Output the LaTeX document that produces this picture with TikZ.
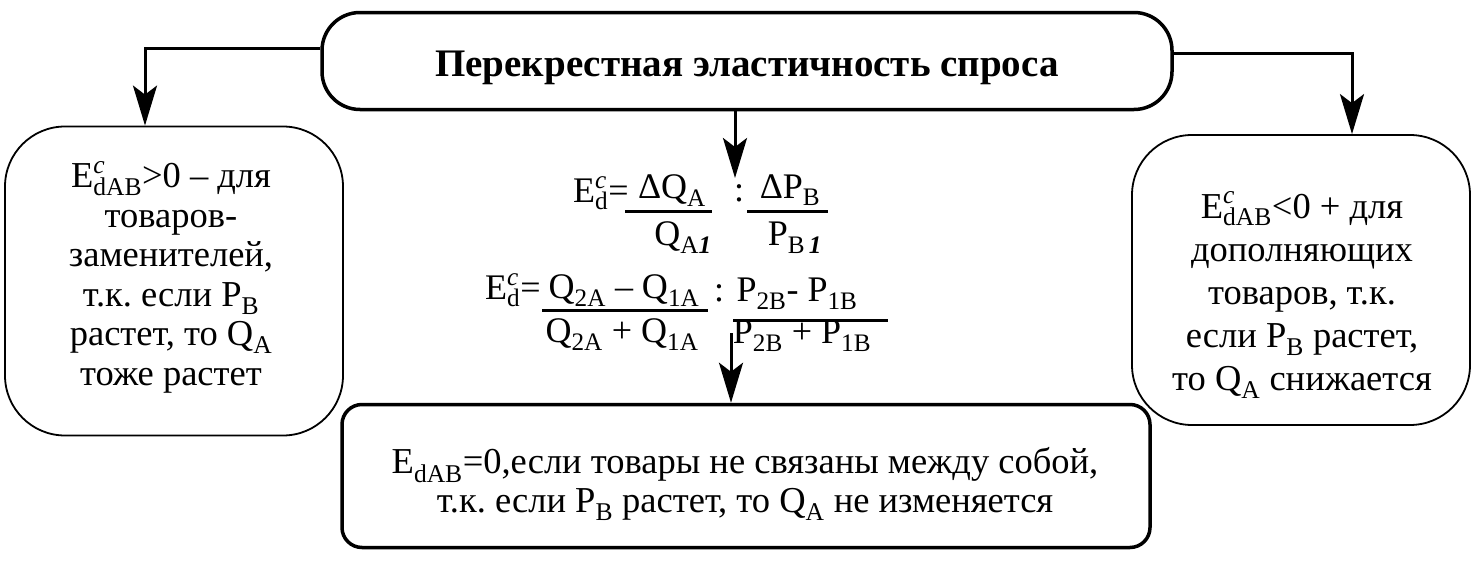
\documentclass[tikz,border=0pt]{standalone}
\usepackage{amsmath}
\usepackage{fontspec}
\setmainfont{Liberation Serif}
\usetikzlibrary{arrows.meta}
\frenchspacing
\newcommand\tx[1]{\text{#1}}
\newcommand\one{\textbf{\textit{1}}}
\tikzset{
  boxthick/.style={draw, line width=3.5pt, rounded corners=#1, inner sep=0pt},
  boxthin/.style={draw, line width=1.8pt, rounded corners=#1, inner sep=0pt},
  conn/.style={line width=3pt, -{Stealth[length=40pt,width=24pt,inset=9pt]}},
  txt/.style={font=\fontsize{36.5}{39.5}\selectfont, align=center, inner sep=0pt},
  txtwide/.style={font=\fontsize{36.5}{43}\selectfont, align=center, inner sep=0pt},
  ttl/.style={font=\fontsize{39}{44}\selectfont\bfseries, inner sep=0pt},
  ftxt/.style={font=\fontsize{36}{40}\selectfont, inner sep=0pt},
  frule/.style={line width=3pt}
}
\begin{document}
\begin{tikzpicture}[x=1pt,y=-1pt]
\useasboundingbox (0,0) rectangle (1475,562);
% boxes
\node[boxthick=38pt, minimum width=850pt, minimum height=97pt] (top) at (747,61) {};
\node[boxthin=60pt, minimum width=338pt, minimum height=309pt] (left) at (174,281) {};
\node[boxthin=60pt, minimum width=338pt, minimum height=290pt] (right) at (1301,280) {};
\node[boxthick=20pt, minimum width=808pt, minimum height=143pt] (bot) at (746,476) {};
% texts
\node[ttl] (toptxt) at (747,68) {Перекрестная эластичность спроса};
\node[txt] (lefttxt) at (171,277)
  {$\tx{E}^{\textit{c}}_{\tx{dAB}}$>0 – для\\ товаров-\\ заменителей,\\ т.к. если P$_{\tx{B}}$\\ растет, то Q$_{\tx{A}}$\\ тоже растет};
\node[txtwide] (righttxt) at (1302,295)
  {$\tx{E}^{\textit{c}}_{\tx{dAB}}$<0 + для\\ дополняющих\\ товаров, т.к.\\ если P$_{\tx{B}}$ растет,\\ то Q$_{\tx{A}}$ снижается};
\node[txt] (bottxt) at (745,484)
  {E$_{\tx{dAB}}$=0,если товары не связаны между собой,\\ т.к. если P$_{\tx{B}}$ растет, то Q$_{\tx{A}}$ не изменяется};
% formula 1
\node[ftxt, anchor=base west] (f1e) at (573,202) {$\tx{E}^{\textit{c}}_{\tx{d}}$=};
\node[ftxt, anchor=base] (f1n1) at (672,198) {ΔQ$_{\tx{A}}$};
\node[ftxt, anchor=base] (f1d1) at (683,245) {Q$_{\tx{A}\one}$};
\node[ftxt, anchor=base] (f1c) at (739,201) {:};
\node[ftxt, anchor=base] (f1n2) at (790,198) {ΔP$_{\tx{B}}$};
\node[ftxt, anchor=base] (f1d2) at (795,245) {P$_{\tx{B}\,\one}$};
\draw[frule] (625,211) coordinate (r1a) -- (712,211) coordinate (r1b);
\draw[frule] (747,211) coordinate (r2a) -- (828,211) coordinate (r2b);
% formula 2
\node[ftxt, anchor=base west] (f2e) at (485,299) {$\tx{E}^{\textit{c}}_{\tx{d}}$=};
\node[ftxt, anchor=base] (f2n1) at (624,298) {Q$_{\tx{2A}}$ – Q$_{\tx{1A}}$};
\node[ftxt, anchor=base] (f2d1) at (622,342) {Q$_{\tx{2A}}$ + Q$_{\tx{1A}}$};
\node[ftxt, anchor=base] (f2c) at (719,301) {:};
\node[ftxt, anchor=base] (f2n2) at (797,301) {P$_{\tx{2B}}$- P$_{\tx{1B}}$};
\node[ftxt, anchor=base] (f2d2) at (802,343) {P$_{\tx{2B}}$ + P$_{\tx{1B}}$};
\draw[frule] (542,310) coordinate (r3a) -- (708,310) coordinate (r3b);
\draw[frule] (733,320) coordinate (r4a) -- (888,320) coordinate (r4b);
% connectors
\coordinate (c1) at (735,178);
\coordinate (c2) at (731,333);
\draw[conn] ([yshift=13pt]top.west) -| ([xshift=-29pt]left.north);
\draw[conn] ([yshift=8pt]top.east) -| ([xshift=51pt]right.north);
\draw[conn] (top.south -| c1) -- (c1);
\draw[conn] (c2) -- (bot.north -| c2);
\end{tikzpicture}
\end{document}
